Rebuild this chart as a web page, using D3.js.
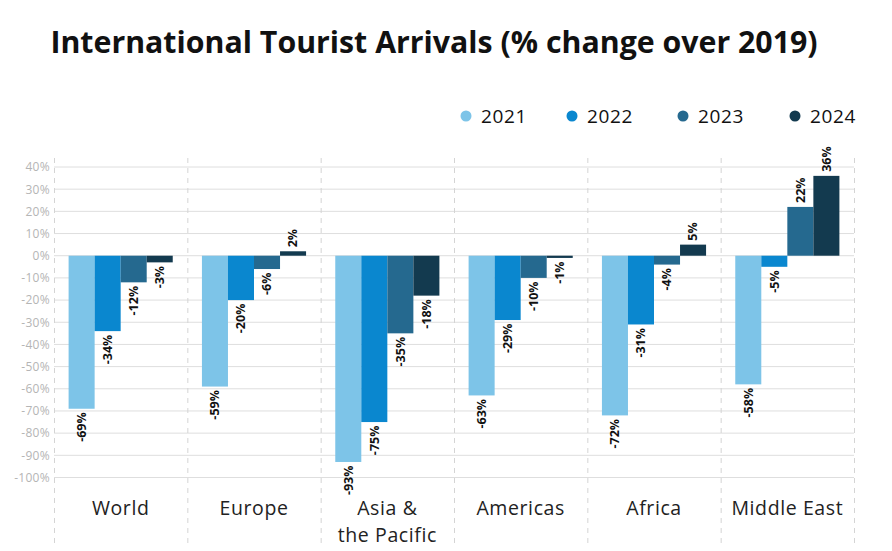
<!DOCTYPE html>
<html>
<head>
<meta charset="utf-8">
<script src="https://cdn.jsdelivr.net/npm/d3@7"></script>
<style>
  body { margin: 0; background: #fff; }
  svg { display: block; font-family: "Open Sans", Lato, sans-serif; }
</style>
</head>
<body>
<svg id="chart" width="892" height="551"></svg>
<script>
// International Tourist Arrivals -- grouped bars, % change over 2019

var regions = ["World", "Europe", "Asia & the Pacific", "Americas", "Africa", "Middle East"];
var years = ["2021", "2022", "2023", "2024"];
var v2021 = [-69, -59, -93, -63, -72, -58];
var v2022 = [-34, -20, -75, -29, -31, -5];
var v2023 = [-12, -6, -35, -10, -4, 22];
var v2024 = [-3, 2, -18, -1, 5, 36];
var yTicks = [40, 30, 20, 10, 0, -10, -20, -30, -40, -50, -60, -70, -80, -90, -100];
var colors = ["#7dc4e8", "#0a87cf", "#25698f", "#133a4f"];

var series = [v2021, v2022, v2023, v2024];

var svg = d3.select("#chart");
var left = 54, right = 854;

var x = d3.scaleBand().domain(regions).range([left, right]).paddingInner(0).paddingOuter(0);
var xi = d3.scaleBand().domain(years).range([14.6, x.bandwidth() - 14.6]).padding(0);
var y = d3.scaleLinear().domain([-100, 40]).range([477.5, 167]);

///////////////////////////////////////////////////////////////////////////////
// Title

svg.append("text")
  .attr("x", 434).attr("y", 53)
  .attr("text-anchor", "middle")
  .style("font-family", "'Open Sans', sans-serif")
  .style("font-weight", 700)
  .style("font-size", "30.3px")
  .style("fill", "#111")
  .text("International Tourist Arrivals (% change over 2019)");

///////////////////////////////////////////////////////////////////////////////
// Legend

var legendX = [466, 572, 683, 795];
var legend = svg.append("g").selectAll("g").data(years).enter().append("g")
  .attr("transform", function (d, i) { return "translate(" + legendX[i] + ",116)"; });
legend.append("circle").attr("r", 5.5).attr("fill", function (d, i) { return colors[i]; });
legend.append("text")
  .attr("x", 15).attr("dy", "0.35em")
  .style("font-size", "19px")
  .style("letter-spacing", "0.6px")
  .style("fill", "#111")
  .text(function (d) { return d; });

///////////////////////////////////////////////////////////////////////////////
// Grid and axes

svg.append("g").selectAll("line").data(yTicks).enter().append("line")
  .attr("x1", left).attr("x2", right)
  .attr("y1", function (d) { return y(d); }).attr("y2", function (d) { return y(d); })
  .attr("stroke", "#dedede").attr("stroke-width", 1);

var yAxis = svg.append("g")
  .attr("transform", "translate(" + left + ",0)")
  .call(d3.axisLeft(y).tickValues(yTicks).tickSize(0).tickPadding(4)
    .tickFormat(function (d) { return d + "%"; }));
yAxis.select(".domain").remove();
yAxis.selectAll("text")
  .style("font-family", "'Open Sans', sans-serif")
  .style("font-size", "12px")
  .style("letter-spacing", "0.3px")
  .style("fill", "#b5b5b5");

// dashed category separators
var seps = regions.map(function (r) { return x(r); }).concat([right]);
svg.append("g").selectAll("line").data(seps).enter().append("line")
  .attr("x1", function (d) { return d + 0.5; }).attr("x2", function (d) { return d + 0.5; })
  .attr("y1", 158).attr("y2", 546)
  .attr("stroke", "#d4d4d4").attr("stroke-dasharray", "5,5");

///////////////////////////////////////////////////////////////////////////////
// Bars

var groups = svg.append("g").selectAll("g").data(regions).enter().append("g")
  .attr("transform", function (d) { return "translate(" + x(d) + ",0)"; });

groups.selectAll("rect")
  .data(function (d, ri) { return years.map(function (yr, k) { return { year: yr, k: k, v: series[k][ri] }; }); })
  .enter().append("rect")
  .attr("x", function (d) { return xi(d.year); })
  .attr("width", xi.bandwidth())
  .attr("y", function (d) { return y(Math.max(0, d.v)); })
  .attr("height", function (d) { return Math.abs(y(d.v) - y(0)); })
  .attr("fill", function (d) { return colors[d.k]; });

groups.selectAll("text.val")
  .data(function (d, ri) { return years.map(function (yr, k) { return { year: yr, k: k, v: series[k][ri] }; }); })
  .enter().append("text")
  .attr("class", "val")
  .attr("transform", function (d) {
    var cx = xi(d.year) + xi.bandwidth() / 2;
    var cy = d.v >= 0 ? y(d.v) - 4 : y(d.v) + 3.5;
    return "translate(" + cx + "," + cy + ") rotate(-90)";
  })
  .attr("text-anchor", function (d) { return d.v >= 0 ? "start" : "end"; })
  .attr("dy", "0.35em")
  .style("font-family", "'Open Sans', sans-serif")
  .style("font-weight", 700)
  .style("font-size", "12.5px")
  .style("fill", "#111")
  .text(function (d) { return d.v + "%"; });

///////////////////////////////////////////////////////////////////////////////
// Category labels (Asia & the Pacific wraps onto two lines)

var catLines = function (d) {
  return d === "Asia & the Pacific" ? ["Asia &", "the Pacific"] : [d];
};

svg.append("g").selectAll("g").data(regions).enter().append("g")
  .each(function (d) {
    var g = d3.select(this);
    catLines(d).forEach(function (line, i) {
      g.append("text")
        .attr("x", x(d) + x.bandwidth() / 2)
        .attr("y", 515 + i * 26.5)
        .attr("text-anchor", "middle")
        .style("font-size", "19.5px")
        .style("letter-spacing", "0.6px")
        .style("fill", "#222")
        .text(line);
    });
  });
</script>
</body>
</html>
